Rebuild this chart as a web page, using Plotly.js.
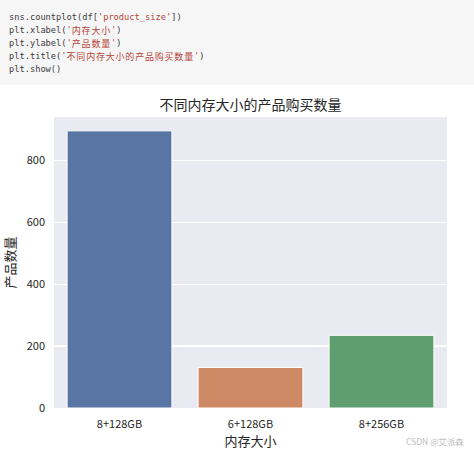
<!DOCTYPE html>
<html>
<head>
<meta charset="utf-8">
<script src="https://cdn.plot.ly/plotly-3.0.1.min.js"></script>
<style>
  body { margin: 0; background: #fff; width: 474px; height: 451px; overflow: hidden; position: relative; }
  #code {
    height: 85px; box-sizing: border-box; padding: 11px 0 0 9px; overflow: hidden;
    background: #f6f6f6; color: #3c3c3c;
    font-family: "DejaVu Sans Mono", monospace;
    font-size: 8.7px; line-height: 13px;
  }
  #code div { height: 13px; white-space: nowrap; }
  #code span { display: inline-block; vertical-align: top; white-space: pre; }
  #code .s { color: #b5443a; }
  #code .c { font-family: "Noto Sans CJK SC", sans-serif; font-size: 9px; letter-spacing: 0.8px; }
  #plot { width: 474px; height: 366px; }
  #mark { position: absolute; left: 406px; top: 435px; font-family: "Noto Sans CJK SC", sans-serif; font-size: 8.5px; color: #bdbdbd; }
</style>
</head>
<body>
<div id="code"><div><span>sns.countplot(df[</span><span class="s">'product_size'</span><span>])</span></div><div><span>plt.xlabel(</span><span class="s">'</span><span class="s c">内存大小</span><span class="s">'</span><span>)</span></div><div><span>plt.ylabel(</span><span class="s">'</span><span class="s c">产品数量</span><span class="s">'</span><span>)</span></div><div><span>plt.title(</span><span class="s">'</span><span class="s c">不同内存大小的产品购买数量</span><span class="s">'</span><span>)</span></div><div><span>plt.show()</span></div></div>
<div id="plot"></div>
<div id="mark">CSDN @艾派森</div>
<script>
// 数据
const sizes = ['8+128GB', '6+128GB', '8+256GB'];
const counts = [896, 131, 235];
const barColors = ['#5975a4', '#cc8963', '#5f9e6e'];
const yTicks = [0, 200, 400, 600, 800];

const font = 'Noto Sans CJK SC, sans-serif';

const trace = {
  x: sizes,
  y: counts,
  type: 'bar',
  width: 0.8,
  marker: { color: barColors, line: { color: '#ffffff', width: 1 } },
  hoverinfo: 'x+y'
};

const layout = {
  width: 474,
  height: 366,
  margin: { l: 54, r: 27, t: 32, b: 43 },
  paper_bgcolor: '#ffffff',
  plot_bgcolor: '#eaeaf2',
  showlegend: false,
  font: { family: font, color: '#262626', size: 11 },
  title: {
    text: '不同内存大小的产品购买数量',
    font: { family: font, size: 14, color: '#262626' },
    x: 0.5, xref: 'paper', xanchor: 'center',
    y: 1 - 20 / 366, yref: 'container', yanchor: 'middle'
  },
  xaxis: {
    type: 'category',
    range: [-0.5, 2.5],
    showgrid: false,
    zeroline: false,
    showline: false,
    ticks: '',
    ticklabelstandoff: 8,
    tickfont: { family: font, size: 11, color: '#262626' },
    title: { text: '内存大小', font: { family: font, size: 13, color: '#262626' }, standoff: 6 }
  },
  yaxis: {
    range: [0, 896 * 1.05],
    tickvals: yTicks,
    showgrid: true,
    gridcolor: '#ffffff',
    gridwidth: 1.3,
    zeroline: false,
    showline: false,
    ticks: '',
    ticklabelstandoff: 8,
    tickfont: { family: font, size: 11, color: '#262626' },
    title: { text: '产品数量', font: { family: font, size: 13, color: '#262626' }, standoff: 8 }
  }
};

Plotly.newPlot('plot', [trace], layout, { displayModeBar: false, staticPlot: true });
</script>
</body>
</html>
